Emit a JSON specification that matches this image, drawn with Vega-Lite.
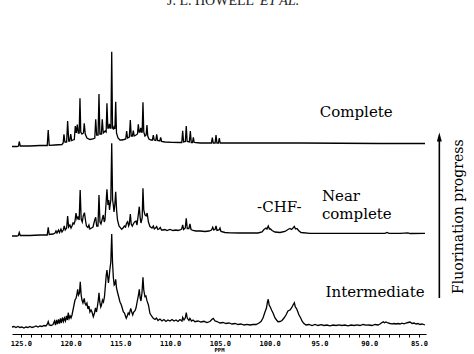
{
"$schema": "https://vega.github.io/schema/vega-lite/v6.json",
"autosize": {"type": "none"},
"width": 414,
"height": 334,
"padding": {"left": 12, "top": 0, "right": 48, "bottom": 20},
"background": "white",
"config": {"view": {"stroke": null}, "axis": {"grid": false}},
"datasets": {
"spectra": [
{"trace":"Complete","ppm":125.89,"intensity":187.5},{"trace":"Complete","ppm":125.39,"intensity":187.5},{"trace":"Complete","ppm":125.24,"intensity":188},{"trace":"Complete","ppm":125.16,"intensity":192.5},{"trace":"Complete","ppm":125.06,"intensity":188},{"trace":"Complete","ppm":124.09,"intensity":188},{"trace":"Complete","ppm":123.08,"intensity":188.5},{"trace":"Complete","ppm":122.35,"intensity":188.5},{"trace":"Complete","ppm":122.25,"intensity":204},{"trace":"Complete","ppm":122.15,"intensity":188.7},{"trace":"Complete","ppm":121.57,"intensity":189},{"trace":"Complete","ppm":120.87,"intensity":189.5},{"trace":"Complete","ppm":120.75,"intensity":191},{"trace":"Complete","ppm":120.67,"intensity":199.7},{"trace":"Complete","ppm":120.57,"intensity":192},{"trace":"Complete","ppm":120.40,"intensity":192},{"trace":"Complete","ppm":120.30,"intensity":213},{"trace":"Complete","ppm":120.19,"intensity":193},{"trace":"Complete","ppm":120.09,"intensity":193},{"trace":"Complete","ppm":119.99,"intensity":200},{"trace":"Complete","ppm":119.89,"intensity":193.5},{"trace":"Complete","ppm":119.76,"intensity":194},{"trace":"Complete","ppm":119.63,"intensity":194.5},{"trace":"Complete","ppm":119.53,"intensity":208},{"trace":"Complete","ppm":119.43,"intensity":201},{"trace":"Complete","ppm":119.33,"intensity":209.5},{"trace":"Complete","ppm":119.23,"intensity":201},{"trace":"Complete","ppm":119.14,"intensity":201},{"trace":"Complete","ppm":119.06,"intensity":235.7},{"trace":"Complete","ppm":118.98,"intensity":202},{"trace":"Complete","ppm":118.86,"intensity":200},{"trace":"Complete","ppm":118.71,"intensity":201},{"trace":"Complete","ppm":118.63,"intensity":210.7},{"trace":"Complete","ppm":118.53,"intensity":200},{"trace":"Complete","ppm":118.36,"intensity":196},{"trace":"Complete","ppm":118.06,"intensity":194.5},{"trace":"Complete","ppm":117.75,"intensity":195},{"trace":"Complete","ppm":117.57,"intensity":196},{"trace":"Complete","ppm":117.48,"intensity":214.7},{"trace":"Complete","ppm":117.38,"intensity":199},{"trace":"Complete","ppm":117.24,"intensity":199},{"trace":"Complete","ppm":117.15,"intensity":240},{"trace":"Complete","ppm":117.06,"intensity":200},{"trace":"Complete","ppm":116.91,"intensity":200},{"trace":"Complete","ppm":116.82,"intensity":214.7},{"trace":"Complete","ppm":116.72,"intensity":201},{"trace":"Complete","ppm":116.62,"intensity":202},{"trace":"Complete","ppm":116.53,"intensity":203},{"trace":"Complete","ppm":116.43,"intensity":202},{"trace":"Complete","ppm":116.35,"intensity":230.7},{"trace":"Complete","ppm":116.26,"intensity":206},{"trace":"Complete","ppm":116.18,"intensity":206},{"trace":"Complete","ppm":116.10,"intensity":210},{"trace":"Complete","ppm":116.02,"intensity":206},{"trace":"Complete","ppm":115.95,"intensity":206},{"trace":"Complete","ppm":115.87,"intensity":282.3},{"trace":"Complete","ppm":115.79,"intensity":206},{"trace":"Complete","ppm":115.71,"intensity":205},{"trace":"Complete","ppm":115.64,"intensity":207},{"trace":"Complete","ppm":115.55,"intensity":205},{"trace":"Complete","ppm":115.47,"intensity":232.3},{"trace":"Complete","ppm":115.39,"intensity":201},{"trace":"Complete","ppm":115.24,"intensity":196},{"trace":"Complete","ppm":115.04,"intensity":194},{"trace":"Complete","ppm":114.84,"intensity":194},{"trace":"Complete","ppm":114.64,"intensity":194.5},{"trace":"Complete","ppm":114.46,"intensity":195},{"trace":"Complete","ppm":114.37,"intensity":203},{"trace":"Complete","ppm":114.28,"intensity":196},{"trace":"Complete","ppm":114.10,"intensity":197},{"trace":"Complete","ppm":114.00,"intensity":214},{"trace":"Complete","ppm":113.91,"intensity":198},{"trace":"Complete","ppm":113.79,"intensity":198},{"trace":"Complete","ppm":113.70,"intensity":203.3},{"trace":"Complete","ppm":113.61,"intensity":198},{"trace":"Complete","ppm":113.43,"intensity":199},{"trace":"Complete","ppm":113.28,"intensity":200},{"trace":"Complete","ppm":113.20,"intensity":209.7},{"trace":"Complete","ppm":113.11,"intensity":202},{"trace":"Complete","ppm":113.03,"intensity":202},{"trace":"Complete","ppm":112.95,"intensity":206},{"trace":"Complete","ppm":112.87,"intensity":202},{"trace":"Complete","ppm":112.81,"intensity":202},{"trace":"Complete","ppm":112.73,"intensity":231.7},{"trace":"Complete","ppm":112.65,"intensity":202},{"trace":"Complete","ppm":112.53,"intensity":198},{"trace":"Complete","ppm":112.41,"intensity":199},{"trace":"Complete","ppm":112.33,"intensity":209},{"trace":"Complete","ppm":112.25,"intensity":198},{"trace":"Complete","ppm":112.13,"intensity":195},{"trace":"Complete","ppm":111.92,"intensity":194},{"trace":"Complete","ppm":111.78,"intensity":194},{"trace":"Complete","ppm":111.69,"intensity":199},{"trace":"Complete","ppm":111.60,"intensity":194},{"trace":"Complete","ppm":111.44,"intensity":193.5},{"trace":"Complete","ppm":111.35,"intensity":199.7},{"trace":"Complete","ppm":111.26,"intensity":193.5},{"trace":"Complete","ppm":111.04,"intensity":193},{"trace":"Complete","ppm":110.95,"intensity":196.7},{"trace":"Complete","ppm":110.86,"intensity":192.5},{"trace":"Complete","ppm":110.52,"intensity":192},{"trace":"Complete","ppm":109.81,"intensity":191.7},{"trace":"Complete","ppm":109.01,"intensity":191.5},{"trace":"Complete","ppm":108.83,"intensity":191.5},{"trace":"Complete","ppm":108.74,"intensity":203.3},{"trace":"Complete","ppm":108.65,"intensity":192},{"trace":"Complete","ppm":108.47,"intensity":192.5},{"trace":"Complete","ppm":108.38,"intensity":208},{"trace":"Complete","ppm":108.29,"intensity":192.5},{"trace":"Complete","ppm":108.07,"intensity":192},{"trace":"Complete","ppm":107.97,"intensity":203},{"trace":"Complete","ppm":107.88,"intensity":191.5},{"trace":"Complete","ppm":107.75,"intensity":191.5},{"trace":"Complete","ppm":107.67,"intensity":196.7},{"trace":"Complete","ppm":107.58,"intensity":191.5},{"trace":"Complete","ppm":107.00,"intensity":191},{"trace":"Complete","ppm":105.85,"intensity":191},{"trace":"Complete","ppm":105.76,"intensity":196.3},{"trace":"Complete","ppm":105.67,"intensity":191},{"trace":"Complete","ppm":105.48,"intensity":191},{"trace":"Complete","ppm":105.39,"intensity":199},{"trace":"Complete","ppm":105.30,"intensity":191},{"trace":"Complete","ppm":105.15,"intensity":191},{"trace":"Complete","ppm":105.06,"intensity":196},{"trace":"Complete","ppm":104.97,"intensity":191},{"trace":"Complete","ppm":102.98,"intensity":191},{"trace":"Complete","ppm":96.95,"intensity":191},{"trace":"Complete","ppm":88.91,"intensity":190.5},{"trace":"Complete","ppm":84.39,"intensity":190.5},
{"trace":"Near complete","ppm":125.89,"intensity":98},{"trace":"Near complete","ppm":125.39,"intensity":98},{"trace":"Near complete","ppm":125.25,"intensity":98.5},{"trace":"Near complete","ppm":125.16,"intensity":101.5},{"trace":"Near complete","ppm":125.06,"intensity":98.5},{"trace":"Near complete","ppm":124.09,"intensity":98.5},{"trace":"Near complete","ppm":123.08,"intensity":99},{"trace":"Near complete","ppm":122.35,"intensity":99},{"trace":"Near complete","ppm":122.25,"intensity":106.7},{"trace":"Near complete","ppm":122.15,"intensity":99.5},{"trace":"Near complete","ppm":121.77,"intensity":100},{"trace":"Near complete","ppm":121.57,"intensity":101},{"trace":"Near complete","ppm":121.47,"intensity":103},{"trace":"Near complete","ppm":121.37,"intensity":101},{"trace":"Near complete","ppm":121.22,"intensity":104},{"trace":"Near complete","ppm":121.12,"intensity":101.5},{"trace":"Near complete","ppm":120.97,"intensity":105},{"trace":"Near complete","ppm":120.87,"intensity":102},{"trace":"Near complete","ppm":120.74,"intensity":104},{"trace":"Near complete","ppm":120.64,"intensity":108},{"trace":"Near complete","ppm":120.54,"intensity":104},{"trace":"Near complete","ppm":120.40,"intensity":106},{"trace":"Near complete","ppm":120.30,"intensity":118},{"trace":"Near complete","ppm":120.20,"intensity":107},{"trace":"Near complete","ppm":120.07,"intensity":109},{"trace":"Near complete","ppm":119.96,"intensity":106},{"trace":"Near complete","ppm":119.86,"intensity":108},{"trace":"Near complete","ppm":119.76,"intensity":111},{"trace":"Near complete","ppm":119.66,"intensity":110},{"trace":"Near complete","ppm":119.56,"intensity":113},{"trace":"Near complete","ppm":119.46,"intensity":121},{"trace":"Near complete","ppm":119.36,"intensity":115},{"trace":"Near complete","ppm":119.26,"intensity":117},{"trace":"Near complete","ppm":119.14,"intensity":114},{"trace":"Near complete","ppm":119.04,"intensity":144},{"trace":"Near complete","ppm":118.94,"intensity":115},{"trace":"Near complete","ppm":118.83,"intensity":112},{"trace":"Near complete","ppm":118.73,"intensity":118},{"trace":"Near complete","ppm":118.61,"intensity":121.3},{"trace":"Near complete","ppm":118.51,"intensity":114},{"trace":"Near complete","ppm":118.41,"intensity":108},{"trace":"Near complete","ppm":118.26,"intensity":106.5},{"trace":"Near complete","ppm":118.16,"intensity":109},{"trace":"Near complete","ppm":118.06,"intensity":105},{"trace":"Near complete","ppm":117.90,"intensity":106},{"trace":"Near complete","ppm":117.75,"intensity":107},{"trace":"Near complete","ppm":117.58,"intensity":114},{"trace":"Near complete","ppm":117.48,"intensity":116.7},{"trace":"Near complete","ppm":117.38,"intensity":108},{"trace":"Near complete","ppm":117.25,"intensity":108},{"trace":"Near complete","ppm":117.15,"intensity":139},{"trace":"Near complete","ppm":117.05,"intensity":112},{"trace":"Near complete","ppm":116.95,"intensity":110},{"trace":"Near complete","ppm":116.82,"intensity":115},{"trace":"Near complete","ppm":116.72,"intensity":119},{"trace":"Near complete","ppm":116.62,"intensity":112},{"trace":"Near complete","ppm":116.55,"intensity":114},{"trace":"Near complete","ppm":116.45,"intensity":129},{"trace":"Near complete","ppm":116.35,"intensity":144.7},{"trace":"Near complete","ppm":116.25,"intensity":129},{"trace":"Near complete","ppm":116.17,"intensity":134},{"trace":"Near complete","ppm":116.09,"intensity":124},{"trace":"Near complete","ppm":116.03,"intensity":129},{"trace":"Near complete","ppm":115.96,"intensity":134},{"trace":"Near complete","ppm":115.87,"intensity":190.7},{"trace":"Near complete","ppm":115.78,"intensity":134},{"trace":"Near complete","ppm":115.71,"intensity":129},{"trace":"Near complete","ppm":115.64,"intensity":122},{"trace":"Near complete","ppm":115.56,"intensity":129},{"trace":"Near complete","ppm":115.47,"intensity":142.3},{"trace":"Near complete","ppm":115.38,"intensity":124},{"trace":"Near complete","ppm":115.29,"intensity":114},{"trace":"Near complete","ppm":115.14,"intensity":108},{"trace":"Near complete","ppm":114.87,"intensity":104.7},{"trace":"Near complete","ppm":114.74,"intensity":106},{"trace":"Near complete","ppm":114.59,"intensity":108},{"trace":"Near complete","ppm":114.48,"intensity":107},{"trace":"Near complete","ppm":114.37,"intensity":111},{"trace":"Near complete","ppm":114.27,"intensity":112.3},{"trace":"Near complete","ppm":114.17,"intensity":108},{"trace":"Near complete","ppm":114.10,"intensity":110},{"trace":"Near complete","ppm":114.00,"intensity":120},{"trace":"Near complete","ppm":113.91,"intensity":110},{"trace":"Near complete","ppm":113.80,"intensity":108},{"trace":"Near complete","ppm":113.70,"intensity":110},{"trace":"Near complete","ppm":113.58,"intensity":112},{"trace":"Near complete","ppm":113.43,"intensity":113},{"trace":"Near complete","ppm":113.33,"intensity":109},{"trace":"Near complete","ppm":113.19,"intensity":120},{"trace":"Near complete","ppm":113.10,"intensity":127.3},{"trace":"Near complete","ppm":113.01,"intensity":116},{"trace":"Near complete","ppm":112.93,"intensity":111},{"trace":"Near complete","ppm":112.81,"intensity":116},{"trace":"Near complete","ppm":112.73,"intensity":145.7},{"trace":"Near complete","ppm":112.65,"intensity":124},{"trace":"Near complete","ppm":112.53,"intensity":119},{"trace":"Near complete","ppm":112.41,"intensity":118},{"trace":"Near complete","ppm":112.31,"intensity":121},{"trace":"Near complete","ppm":112.18,"intensity":112},{"trace":"Near complete","ppm":112.03,"intensity":107.5},{"trace":"Near complete","ppm":111.82,"intensity":106},{"trace":"Near complete","ppm":111.69,"intensity":108},{"trace":"Near complete","ppm":111.59,"intensity":105},{"trace":"Near complete","ppm":111.47,"intensity":106},{"trace":"Near complete","ppm":111.35,"intensity":107.5},{"trace":"Near complete","ppm":111.24,"intensity":104.5},{"trace":"Near complete","ppm":111.12,"intensity":105},{"trace":"Near complete","ppm":110.99,"intensity":106.5},{"trace":"Near complete","ppm":110.87,"intensity":104},{"trace":"Near complete","ppm":110.72,"intensity":104},{"trace":"Near complete","ppm":110.52,"intensity":104.5},{"trace":"Near complete","ppm":110.32,"intensity":103.5},{"trace":"Near complete","ppm":110.01,"intensity":104.5},{"trace":"Near complete","ppm":109.71,"intensity":103.5},{"trace":"Near complete","ppm":109.41,"intensity":104},{"trace":"Near complete","ppm":109.21,"intensity":103.5},{"trace":"Near complete","ppm":109.01,"intensity":104},{"trace":"Near complete","ppm":108.84,"intensity":105},{"trace":"Near complete","ppm":108.74,"intensity":109},{"trace":"Near complete","ppm":108.64,"intensity":104.5},{"trace":"Near complete","ppm":108.48,"intensity":106},{"trace":"Near complete","ppm":108.38,"intensity":115.7},{"trace":"Near complete","ppm":108.28,"intensity":105.5},{"trace":"Near complete","ppm":108.11,"intensity":105.5},{"trace":"Near complete","ppm":108.01,"intensity":110},{"trace":"Near complete","ppm":107.90,"intensity":104.5},{"trace":"Near complete","ppm":107.70,"intensity":103.5},{"trace":"Near complete","ppm":107.40,"intensity":103},{"trace":"Near complete","ppm":107.00,"intensity":103},{"trace":"Near complete","ppm":106.50,"intensity":102.5},{"trace":"Near complete","ppm":106.10,"intensity":103},{"trace":"Near complete","ppm":105.84,"intensity":104},{"trace":"Near complete","ppm":105.72,"intensity":106.7},{"trace":"Near complete","ppm":105.62,"intensity":104},{"trace":"Near complete","ppm":105.49,"intensity":104.5},{"trace":"Near complete","ppm":105.39,"intensity":108},{"trace":"Near complete","ppm":105.29,"intensity":103.5},{"trace":"Near complete","ppm":105.09,"intensity":104},{"trace":"Near complete","ppm":104.99,"intensity":106},{"trace":"Near complete","ppm":104.89,"intensity":102.5},{"trace":"Near complete","ppm":104.49,"intensity":101.5},{"trace":"Near complete","ppm":103.99,"intensity":101.2},{"trace":"Near complete","ppm":102.98,"intensity":101},{"trace":"Near complete","ppm":101.98,"intensity":101},{"trace":"Near complete","ppm":101.17,"intensity":101},{"trace":"Near complete","ppm":100.77,"intensity":102},{"trace":"Near complete","ppm":100.57,"intensity":104.5},{"trace":"Near complete","ppm":100.37,"intensity":106},{"trace":"Near complete","ppm":100.27,"intensity":105},{"trace":"Near complete","ppm":100.14,"intensity":108},{"trace":"Near complete","ppm":100.02,"intensity":105},{"trace":"Near complete","ppm":99.91,"intensity":105},{"trace":"Near complete","ppm":99.76,"intensity":103.5},{"trace":"Near complete","ppm":99.46,"intensity":102},{"trace":"Near complete","ppm":98.96,"intensity":101.5},{"trace":"Near complete","ppm":98.46,"intensity":102.5},{"trace":"Near complete","ppm":98.16,"intensity":104.5},{"trace":"Near complete","ppm":97.96,"intensity":105.5},{"trace":"Near complete","ppm":97.80,"intensity":104.5},{"trace":"Near complete","ppm":97.65,"intensity":106},{"trace":"Near complete","ppm":97.52,"intensity":107.5},{"trace":"Near complete","ppm":97.40,"intensity":105},{"trace":"Near complete","ppm":97.25,"intensity":105.5},{"trace":"Near complete","ppm":97.10,"intensity":103.5},{"trace":"Near complete","ppm":96.85,"intensity":101.5},{"trace":"Near complete","ppm":95.95,"intensity":100.7},{"trace":"Near complete","ppm":93.94,"intensity":100.7},{"trace":"Near complete","ppm":90.92,"intensity":100.7},{"trace":"Near complete","ppm":88.41,"intensity":100.7},{"trace":"Near complete","ppm":88.21,"intensity":101.5},{"trace":"Near complete","ppm":88.01,"intensity":100.7},{"trace":"Near complete","ppm":86.90,"intensity":100.7},{"trace":"Near complete","ppm":86.10,"intensity":101.2},{"trace":"Near complete","ppm":85.89,"intensity":100.5},{"trace":"Near complete","ppm":84.39,"intensity":100.7},
{"trace":"Intermediate","ppm":125.89,"intensity":7},{"trace":"Intermediate","ppm":125.69,"intensity":7.5},{"trace":"Intermediate","ppm":125.49,"intensity":6.5},{"trace":"Intermediate","ppm":125.29,"intensity":7.5},{"trace":"Intermediate","ppm":125.09,"intensity":6.5},{"trace":"Intermediate","ppm":124.89,"intensity":7},{"trace":"Intermediate","ppm":124.69,"intensity":6},{"trace":"Intermediate","ppm":124.49,"intensity":7},{"trace":"Intermediate","ppm":124.29,"intensity":6.5},{"trace":"Intermediate","ppm":124.09,"intensity":7.5},{"trace":"Intermediate","ppm":123.88,"intensity":6.5},{"trace":"Intermediate","ppm":123.68,"intensity":7},{"trace":"Intermediate","ppm":123.48,"intensity":8},{"trace":"Intermediate","ppm":123.28,"intensity":7},{"trace":"Intermediate","ppm":123.08,"intensity":8},{"trace":"Intermediate","ppm":122.88,"intensity":7.5},{"trace":"Intermediate","ppm":122.68,"intensity":8.5},{"trace":"Intermediate","ppm":122.48,"intensity":8},{"trace":"Intermediate","ppm":122.33,"intensity":10},{"trace":"Intermediate","ppm":122.25,"intensity":12.3},{"trace":"Intermediate","ppm":122.15,"intensity":9},{"trace":"Intermediate","ppm":121.97,"intensity":8.5},{"trace":"Intermediate","ppm":121.77,"intensity":9.5},{"trace":"Intermediate","ppm":121.62,"intensity":13},{"trace":"Intermediate","ppm":121.52,"intensity":9},{"trace":"Intermediate","ppm":121.42,"intensity":14},{"trace":"Intermediate","ppm":121.32,"intensity":10},{"trace":"Intermediate","ppm":121.22,"intensity":14.5},{"trace":"Intermediate","ppm":121.12,"intensity":10.5},{"trace":"Intermediate","ppm":121.02,"intensity":15.5},{"trace":"Intermediate","ppm":120.92,"intensity":11},{"trace":"Intermediate","ppm":120.82,"intensity":16.5},{"trace":"Intermediate","ppm":120.72,"intensity":12.5},{"trace":"Intermediate","ppm":120.62,"intensity":16},{"trace":"Intermediate","ppm":120.52,"intensity":13},{"trace":"Intermediate","ppm":120.42,"intensity":18},{"trace":"Intermediate","ppm":120.32,"intensity":14},{"trace":"Intermediate","ppm":120.24,"intensity":21.3},{"trace":"Intermediate","ppm":120.15,"intensity":15.5},{"trace":"Intermediate","ppm":120.05,"intensity":18},{"trace":"Intermediate","ppm":119.96,"intensity":16},{"trace":"Intermediate","ppm":119.86,"intensity":19},{"trace":"Intermediate","ppm":119.76,"intensity":24},{"trace":"Intermediate","ppm":119.66,"intensity":29},{"trace":"Intermediate","ppm":119.56,"intensity":34},{"trace":"Intermediate","ppm":119.46,"intensity":35.7},{"trace":"Intermediate","ppm":119.38,"intensity":39},{"trace":"Intermediate","ppm":119.29,"intensity":44.7},{"trace":"Intermediate","ppm":119.21,"intensity":39},{"trace":"Intermediate","ppm":119.11,"intensity":41},{"trace":"Intermediate","ppm":119.03,"intensity":52.3},{"trace":"Intermediate","ppm":118.94,"intensity":39},{"trace":"Intermediate","ppm":118.86,"intensity":34},{"trace":"Intermediate","ppm":118.76,"intensity":31},{"trace":"Intermediate","ppm":118.63,"intensity":35.7},{"trace":"Intermediate","ppm":118.56,"intensity":31},{"trace":"Intermediate","ppm":118.46,"intensity":29},{"trace":"Intermediate","ppm":118.36,"intensity":31},{"trace":"Intermediate","ppm":118.26,"intensity":25},{"trace":"Intermediate","ppm":118.16,"intensity":28},{"trace":"Intermediate","ppm":118.06,"intensity":22},{"trace":"Intermediate","ppm":117.95,"intensity":24},{"trace":"Intermediate","ppm":117.85,"intensity":22},{"trace":"Intermediate","ppm":117.72,"intensity":17.3},{"trace":"Intermediate","ppm":117.60,"intensity":21},{"trace":"Intermediate","ppm":117.50,"intensity":26},{"trace":"Intermediate","ppm":117.40,"intensity":22},{"trace":"Intermediate","ppm":117.30,"intensity":28},{"trace":"Intermediate","ppm":117.22,"intensity":34},{"trace":"Intermediate","ppm":117.15,"intensity":41.3},{"trace":"Intermediate","ppm":117.07,"intensity":32},{"trace":"Intermediate","ppm":116.97,"intensity":27},{"trace":"Intermediate","ppm":116.90,"intensity":29},{"trace":"Intermediate","ppm":116.80,"intensity":34},{"trace":"Intermediate","ppm":116.70,"intensity":32},{"trace":"Intermediate","ppm":116.60,"intensity":37},{"trace":"Intermediate","ppm":116.50,"intensity":49},{"trace":"Intermediate","ppm":116.43,"intensity":58},{"trace":"Intermediate","ppm":116.35,"intensity":64},{"trace":"Intermediate","ppm":116.27,"intensity":57},{"trace":"Intermediate","ppm":116.20,"intensity":51},{"trace":"Intermediate","ppm":116.12,"intensity":58},{"trace":"Intermediate","ppm":116.05,"intensity":65},{"trace":"Intermediate","ppm":115.96,"intensity":72},{"trace":"Intermediate","ppm":115.87,"intensity":100},{"trace":"Intermediate","ppm":115.79,"intensity":72},{"trace":"Intermediate","ppm":115.71,"intensity":57},{"trace":"Intermediate","ppm":115.62,"intensity":49},{"trace":"Intermediate","ppm":115.54,"intensity":50},{"trace":"Intermediate","ppm":115.47,"intensity":54.7},{"trace":"Intermediate","ppm":115.39,"intensity":46},{"trace":"Intermediate","ppm":115.27,"intensity":41},{"trace":"Intermediate","ppm":115.14,"intensity":36},{"trace":"Intermediate","ppm":115.04,"intensity":32},{"trace":"Intermediate","ppm":114.94,"intensity":30},{"trace":"Intermediate","ppm":114.84,"intensity":27},{"trace":"Intermediate","ppm":114.71,"intensity":22.3},{"trace":"Intermediate","ppm":114.59,"intensity":21},{"trace":"Intermediate","ppm":114.49,"intensity":18},{"trace":"Intermediate","ppm":114.41,"intensity":15.7},{"trace":"Intermediate","ppm":114.31,"intensity":18},{"trace":"Intermediate","ppm":114.21,"intensity":21},{"trace":"Intermediate","ppm":114.11,"intensity":19.5},{"trace":"Intermediate","ppm":113.96,"intensity":25.7},{"trace":"Intermediate","ppm":113.86,"intensity":22},{"trace":"Intermediate","ppm":113.76,"intensity":19},{"trace":"Intermediate","ppm":113.66,"intensity":22},{"trace":"Intermediate","ppm":113.53,"intensity":23.3},{"trace":"Intermediate","ppm":113.43,"intensity":26},{"trace":"Intermediate","ppm":113.28,"intensity":34},{"trace":"Intermediate","ppm":113.18,"intensity":39},{"trace":"Intermediate","ppm":113.10,"intensity":44.7},{"trace":"Intermediate","ppm":113.01,"intensity":36},{"trace":"Intermediate","ppm":112.93,"intensity":33},{"trace":"Intermediate","ppm":112.83,"intensity":41},{"trace":"Intermediate","ppm":112.73,"intensity":56.7},{"trace":"Intermediate","ppm":112.65,"intensity":44},{"trace":"Intermediate","ppm":112.53,"intensity":37.3},{"trace":"Intermediate","ppm":112.43,"intensity":38},{"trace":"Intermediate","ppm":112.33,"intensity":33.3},{"trace":"Intermediate","ppm":112.18,"intensity":29},{"trace":"Intermediate","ppm":112.03,"intensity":20.7},{"trace":"Intermediate","ppm":111.87,"intensity":18},{"trace":"Intermediate","ppm":111.69,"intensity":15.7},{"trace":"Intermediate","ppm":111.52,"intensity":14.5},{"trace":"Intermediate","ppm":111.37,"intensity":16},{"trace":"Intermediate","ppm":111.22,"intensity":13.5},{"trace":"Intermediate","ppm":111.02,"intensity":15},{"trace":"Intermediate","ppm":110.82,"intensity":13},{"trace":"Intermediate","ppm":110.62,"intensity":14.5},{"trace":"Intermediate","ppm":110.42,"intensity":12.5},{"trace":"Intermediate","ppm":110.22,"intensity":14},{"trace":"Intermediate","ppm":110.02,"intensity":13},{"trace":"Intermediate","ppm":109.81,"intensity":14.5},{"trace":"Intermediate","ppm":109.61,"intensity":13},{"trace":"Intermediate","ppm":109.41,"intensity":14},{"trace":"Intermediate","ppm":109.21,"intensity":12.5},{"trace":"Intermediate","ppm":109.01,"intensity":14.5},{"trace":"Intermediate","ppm":108.81,"intensity":13},{"trace":"Intermediate","ppm":108.74,"intensity":16.7},{"trace":"Intermediate","ppm":108.61,"intensity":14},{"trace":"Intermediate","ppm":108.48,"intensity":16},{"trace":"Intermediate","ppm":108.38,"intensity":21.3},{"trace":"Intermediate","ppm":108.28,"intensity":16},{"trace":"Intermediate","ppm":108.11,"intensity":13.5},{"trace":"Intermediate","ppm":108.01,"intensity":15.7},{"trace":"Intermediate","ppm":107.85,"intensity":13},{"trace":"Intermediate","ppm":107.70,"intensity":14},{"trace":"Intermediate","ppm":107.50,"intensity":12.3},{"trace":"Intermediate","ppm":107.20,"intensity":13},{"trace":"Intermediate","ppm":106.90,"intensity":12},{"trace":"Intermediate","ppm":106.60,"intensity":12.7},{"trace":"Intermediate","ppm":106.30,"intensity":11.5},{"trace":"Intermediate","ppm":106.00,"intensity":12.5},{"trace":"Intermediate","ppm":105.79,"intensity":14.7},{"trace":"Intermediate","ppm":105.66,"intensity":15.5},{"trace":"Intermediate","ppm":105.49,"intensity":13},{"trace":"Intermediate","ppm":105.29,"intensity":12.5},{"trace":"Intermediate","ppm":104.99,"intensity":11},{"trace":"Intermediate","ppm":104.69,"intensity":11.5},{"trace":"Intermediate","ppm":104.39,"intensity":10.5},{"trace":"Intermediate","ppm":104.09,"intensity":11},{"trace":"Intermediate","ppm":103.78,"intensity":10},{"trace":"Intermediate","ppm":103.48,"intensity":10.5},{"trace":"Intermediate","ppm":103.18,"intensity":9.5},{"trace":"Intermediate","ppm":102.88,"intensity":10},{"trace":"Intermediate","ppm":102.58,"intensity":9},{"trace":"Intermediate","ppm":102.28,"intensity":9.7},{"trace":"Intermediate","ppm":101.98,"intensity":9},{"trace":"Intermediate","ppm":101.67,"intensity":9.5},{"trace":"Intermediate","ppm":101.37,"intensity":9.5},{"trace":"Intermediate","ppm":101.07,"intensity":11},{"trace":"Intermediate","ppm":100.87,"intensity":12.5},{"trace":"Intermediate","ppm":100.67,"intensity":16},{"trace":"Intermediate","ppm":100.47,"intensity":22},{"trace":"Intermediate","ppm":100.32,"intensity":26},{"trace":"Intermediate","ppm":100.22,"intensity":32},{"trace":"Intermediate","ppm":100.14,"intensity":34.7},{"trace":"Intermediate","ppm":100.05,"intensity":29},{"trace":"Intermediate","ppm":99.94,"intensity":27},{"trace":"Intermediate","ppm":99.81,"intensity":24},{"trace":"Intermediate","ppm":99.66,"intensity":21},{"trace":"Intermediate","ppm":99.46,"intensity":16},{"trace":"Intermediate","ppm":99.31,"intensity":14},{"trace":"Intermediate","ppm":99.16,"intensity":12.3},{"trace":"Intermediate","ppm":98.96,"intensity":12.5},{"trace":"Intermediate","ppm":98.76,"intensity":13.5},{"trace":"Intermediate","ppm":98.56,"intensity":16},{"trace":"Intermediate","ppm":98.36,"intensity":19},{"trace":"Intermediate","ppm":98.16,"intensity":23},{"trace":"Intermediate","ppm":97.96,"intensity":24},{"trace":"Intermediate","ppm":97.80,"intensity":26},{"trace":"Intermediate","ppm":97.65,"intensity":29},{"trace":"Intermediate","ppm":97.52,"intensity":31.3},{"trace":"Intermediate","ppm":97.42,"intensity":27},{"trace":"Intermediate","ppm":97.30,"intensity":25.5},{"trace":"Intermediate","ppm":97.20,"intensity":23},{"trace":"Intermediate","ppm":97.05,"intensity":19},{"trace":"Intermediate","ppm":96.88,"intensity":16},{"trace":"Intermediate","ppm":96.75,"intensity":13},{"trace":"Intermediate","ppm":96.58,"intensity":10.7},{"trace":"Intermediate","ppm":96.35,"intensity":9},{"trace":"Intermediate","ppm":96.05,"intensity":9.5},{"trace":"Intermediate","ppm":95.74,"intensity":8.5},{"trace":"Intermediate","ppm":95.44,"intensity":9.5},{"trace":"Intermediate","ppm":95.14,"intensity":8.5},{"trace":"Intermediate","ppm":94.84,"intensity":9.3},{"trace":"Intermediate","ppm":94.54,"intensity":8.5},{"trace":"Intermediate","ppm":94.24,"intensity":9},{"trace":"Intermediate","ppm":93.94,"intensity":8.2},{"trace":"Intermediate","ppm":93.63,"intensity":9},{"trace":"Intermediate","ppm":93.33,"intensity":8.5},{"trace":"Intermediate","ppm":93.03,"intensity":9.2},{"trace":"Intermediate","ppm":92.73,"intensity":8.5},{"trace":"Intermediate","ppm":92.43,"intensity":9},{"trace":"Intermediate","ppm":92.13,"intensity":8.2},{"trace":"Intermediate","ppm":91.82,"intensity":9},{"trace":"Intermediate","ppm":91.52,"intensity":8.5},{"trace":"Intermediate","ppm":91.22,"intensity":9.2},{"trace":"Intermediate","ppm":90.92,"intensity":8.5},{"trace":"Intermediate","ppm":90.62,"intensity":9.5},{"trace":"Intermediate","ppm":90.32,"intensity":8.8},{"trace":"Intermediate","ppm":90.02,"intensity":9},{"trace":"Intermediate","ppm":89.71,"intensity":8.5},{"trace":"Intermediate","ppm":89.41,"intensity":9.5},{"trace":"Intermediate","ppm":89.11,"intensity":9},{"trace":"Intermediate","ppm":88.91,"intensity":10},{"trace":"Intermediate","ppm":88.71,"intensity":11.5},{"trace":"Intermediate","ppm":88.58,"intensity":12.3},{"trace":"Intermediate","ppm":88.46,"intensity":11.2},{"trace":"Intermediate","ppm":88.31,"intensity":12},{"trace":"Intermediate","ppm":88.11,"intensity":11},{"trace":"Intermediate","ppm":87.91,"intensity":10.5},{"trace":"Intermediate","ppm":87.70,"intensity":10.2},{"trace":"Intermediate","ppm":87.50,"intensity":10.5},{"trace":"Intermediate","ppm":87.30,"intensity":10},{"trace":"Intermediate","ppm":87.10,"intensity":10.5},{"trace":"Intermediate","ppm":86.90,"intensity":10},{"trace":"Intermediate","ppm":86.70,"intensity":10.8},{"trace":"Intermediate","ppm":86.50,"intensity":10.2},{"trace":"Intermediate","ppm":86.30,"intensity":11},{"trace":"Intermediate","ppm":86.10,"intensity":11.5},{"trace":"Intermediate","ppm":85.89,"intensity":12},{"trace":"Intermediate","ppm":85.69,"intensity":10.5},{"trace":"Intermediate","ppm":85.49,"intensity":11},{"trace":"Intermediate","ppm":85.29,"intensity":10},{"trace":"Intermediate","ppm":85.09,"intensity":10.5},{"trace":"Intermediate","ppm":84.89,"intensity":9.5},{"trace":"Intermediate","ppm":84.69,"intensity":10},{"trace":"Intermediate","ppm":84.39,"intensity":9}
]
},
"encoding": {
"x": {"field": "ppm", "type": "quantitative", "scale": {"domain": [84.29, 125.89], "reverse": true, "nice": false, "zero": false},
"axis": {"values": [85,86,87,88,89,90,91,92,93,94,95,96,97,98,99,100,101,102,103,104,105,106,107,108,109,110,111,112,113,114,115,116,117,118,119,120,121,122,123,124,125],
"labelExpr": "datum.value % 5 === 0 ? format(datum.value, '.1f') : ''",
"title": "PPM", "tickSize": 3, "tickColor": "black", "domainColor": "black", "domainWidth": 1, "labelColor": "black", "titleColor": "black",
"labelFont": "DejaVu Sans Mono", "labelFontSize": 7, "labelFontWeight": "bold", "labelPadding": 2, "labelOverlap": false, "labelFlush": false,
"titleFont": "DejaVu Sans Mono", "titleFontSize": 5.5, "titleFontWeight": "bold", "titlePadding": 1.5, "titleBaseline": "top", "grid": false}},
"y": {"field": "intensity", "type": "quantitative", "scale": {"domain": [0, 334], "nice": false, "zero": false}, "axis": null}
},
"layer": [
{
"data": {"name": "spectra"},
"mark": {"type": "line", "color": "black", "strokeWidth": 1.3, "clip": false},
"encoding": {
"detail": {"field": "trace", "type": "nominal"}
}
},
{
"data": {"values": [{"label": "Complete", "ppm": 91.30, "intensity": 216.7}, {"label": "Intermediate", "ppm": 89.41, "intensity": 36.7}, {"label": "-CHF-", "ppm": 99.03, "intensity": 122.3}]},
"mark": {"type": "text", "font": "DejaVu Serif", "fontSize": 15, "color": "black", "align": "center", "baseline": "alphabetic"},
"encoding": {"text": {"field": "label"}}
},
{
"data": {"values": [{"label": "Near", "ppm": 94.75, "intensity": 133.3}, {"label": "complete", "ppm": 94.75, "intensity": 114.7}]},
"mark": {"type": "text", "font": "DejaVu Serif", "fontSize": 15, "color": "black", "align": "left", "baseline": "alphabetic"},
"encoding": {"text": {"field": "label"}}
},
{
"data": {"values": [{"label": "Fluorination progress", "ppm": 80.57, "intensity": 117.3}]},
"mark": {"type": "text", "font": "DejaVu Serif", "fontSize": 14, "color": "black", "align": "center", "baseline": "alphabetic", "angle": 270},
"encoding": {"text": {"field": "label"}}
},
{
"data": {"values": [{"ppm": 82.95, "intensity": 36, "top": 193}]},
"mark": {"type": "rule", "color": "black", "strokeWidth": 1.6},
"encoding": {"y2": {"field": "top"}}
},
{
"data": {"values": [{"ppm": 82.95, "intensity": 197}]},
"mark": {"type": "point", "shape": "M0,-1L0.55,1L-0.55,1Z", "size": 81, "filled": true, "color": "black", "opacity": 1}
},
{
"data": {"values": [{"label": "J. L. HOWELL", "ppm": 110.32, "intensity": 329}]},
"mark": {"type": "text", "font": "Liberation Serif", "fontSize": 14, "color": "#222", "align": "left", "baseline": "alphabetic"},
"encoding": {"text": {"field": "label"}}
},
{
"data": {"values": [{"label": "ET AL.", "ppm": 100.97, "intensity": 329}]},
"mark": {"type": "text", "font": "Liberation Serif", "fontSize": 14, "fontStyle": "italic", "color": "#222", "align": "left", "baseline": "alphabetic"},
"encoding": {"text": {"field": "label"}}
}
]
}
